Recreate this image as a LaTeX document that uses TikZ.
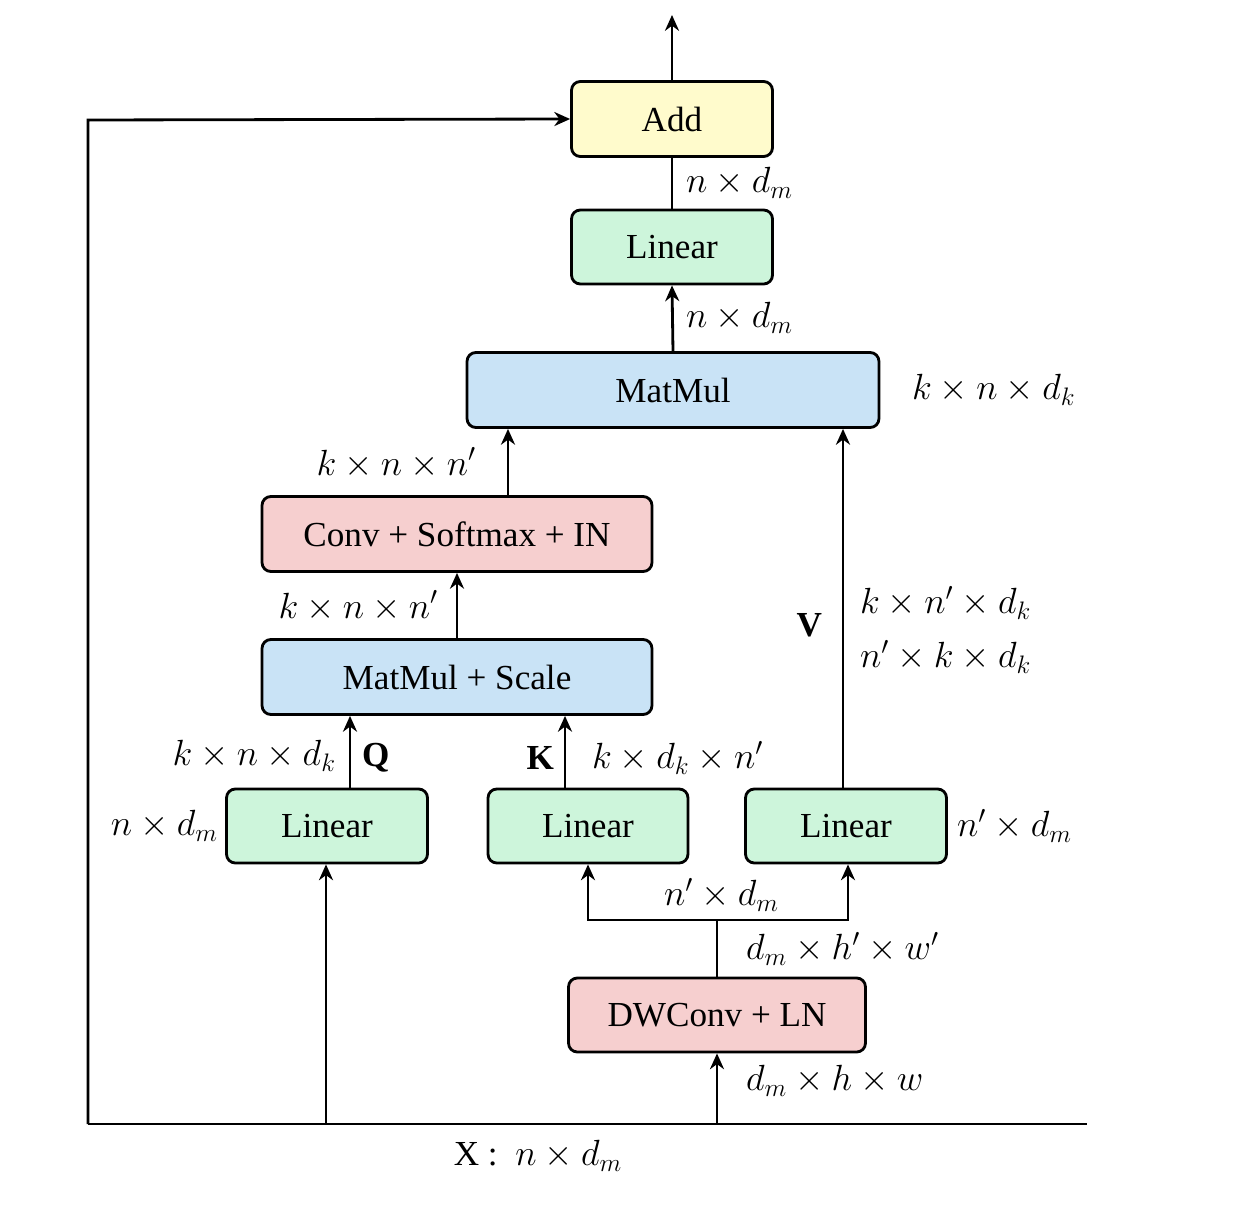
\documentclass[tikz,border=0pt]{standalone}
\usepackage{fontspec}
\setmainfont{Liberation Serif}
\usetikzlibrary{arrows.meta}
\definecolor{cadd}{HTML}{FFFBCC}
\definecolor{clin}{HTML}{CDF5DB}
\definecolor{cmat}{HTML}{C9E3F6}
\definecolor{cconv}{HTML}{F6CFCF}
\begin{document}
\begin{tikzpicture}[x=0.02cm,y=-0.02cm,
  box/.style={draw=black, line width=1.6pt, rounded corners=5pt, inner sep=0pt, font=\fontsize{20}{24}\selectfont},
  lbl/.style={font=\fontsize{20}{24}\selectfont, inner sep=1pt},
  line/.style={line width=1.6pt},
  arrow/.style={line, -{Stealth[length=9pt,width=8pt]}}]
\useasboundingbox (0,0) rectangle (1242,1210);
% boxes
\node (add) [box, fill=cadd, minimum width=4.02cm, minimum height=1.5cm] at (672,119) {Add};
\node (lin) [box, fill=clin, minimum width=4.02cm, minimum height=1.48cm] at (672,247) {Linear};
\node (mm) [box, fill=cmat, minimum width=8.24cm, minimum height=1.5cm] at (673,390) {MatMul};
\node (conv) [box, fill=cconv, minimum width=7.8cm, minimum height=1.5cm] at (457,534) {Conv + Softmax + IN};
\node (mms) [box, fill=cmat, minimum width=7.8cm, minimum height=1.5cm] at (457,677) {MatMul + Scale};
\node (lq) [box, fill=clin, minimum width=4.02cm, minimum height=1.48cm] at (327,826) {Linear};
\node (lk) [box, fill=clin, minimum width=4.0cm, minimum height=1.48cm] at (588,826) {Linear};
\node (lv) [box, fill=clin, minimum width=4.02cm, minimum height=1.48cm] at (846,826) {Linear};
\node (dw) [box, fill=cconv, minimum width=5.94cm, minimum height=1.48cm] at (717,1015) {DWConv + LN};
% coordinates
\coordinate (bl) at (88,1124);
\coordinate (br) at (1087,1124);
\coordinate (tl) at (88,120);
\coordinate (out) at (672,15);
\coordinate (bq) at (326,1124);
\coordinate (bd) at (717,1124);
\coordinate (sp) at (717,920);
\coordinate (spl) at (588,920);
\coordinate (spr) at (848,920);
% connectors
\draw [line] (bl) -- (br);
\draw [arrow] (bl) -- (tl) -- (add.west);
\draw [arrow] (add.north) -- (out);
\draw [line] (lin.north) -- (add.south);
\draw [arrow] (mm.north) -- (lin.south);
\draw [arrow] (conv.north -| 508,0) -- (mm.south -| 508,0);
\draw [arrow] (lv.north -| 843,0) -- (mm.south -| 843,0);
\draw [arrow] (mms.north) -- (conv.south);
\draw [arrow] (lq.north -| 350,0) -- (mms.south -| 350,0);
\draw [arrow] (lk.north -| 565,0) -- (mms.south -| 565,0);
\draw [arrow] (bq) -- (lq.south -| bq);
\draw [arrow] (bd) -- (dw.south);
\draw [line] (dw.north) -- (sp);
\draw [arrow] (spl) -- (spr) -- (lv.south -| spr);
\draw [arrow] (sp) -- (spl) -- (lk.south -| spl);
% labels
\node [lbl, anchor=west] at (684,183) {$n\times d_m$};
\node [lbl, anchor=west] at (684,318) {$n\times d_m$};
\node [lbl, anchor=west] at (910,390) {$k\times n\times d_k$};
\node [lbl, anchor=east] at (478,463) {$k\times n\times n'$};
\node [lbl, anchor=east] at (440,606) {$k\times n\times n'$};
\node [lbl, anchor=east] at (338,756) {$k\times n\times d_k$};
\node [lbl, anchor=west] at (360,758) {$\mathbf{Q}$};
\node [lbl, anchor=east] at (556,758) {$\mathbf{K}$};
\node [lbl, anchor=west] at (590,758) {$k\times d_k\times n'$};
\node [lbl, anchor=east] at (824,625) {$\mathbf{V}$};
\node [lbl, anchor=west] at (858,603) {$k\times n'\times d_k$};
\node [lbl, anchor=west] at (858,657) {$n'\times k\times d_k$};
\node [lbl, anchor=east] at (220,826) {$n\times d_m$};
\node [lbl, anchor=west] at (955,826) {$n'\times d_m$};
\node [lbl, anchor=west] at (662,895) {$n'\times d_m$};
\node [lbl, anchor=west] at (744,949) {$d_m\times h'\times w'$};
\node [lbl, anchor=west] at (744,1081) {$d_m\times h\times w$};
\node [lbl] at (538,1156) {X :\ \ $n\times d_m$};
\end{tikzpicture}
\end{document}
